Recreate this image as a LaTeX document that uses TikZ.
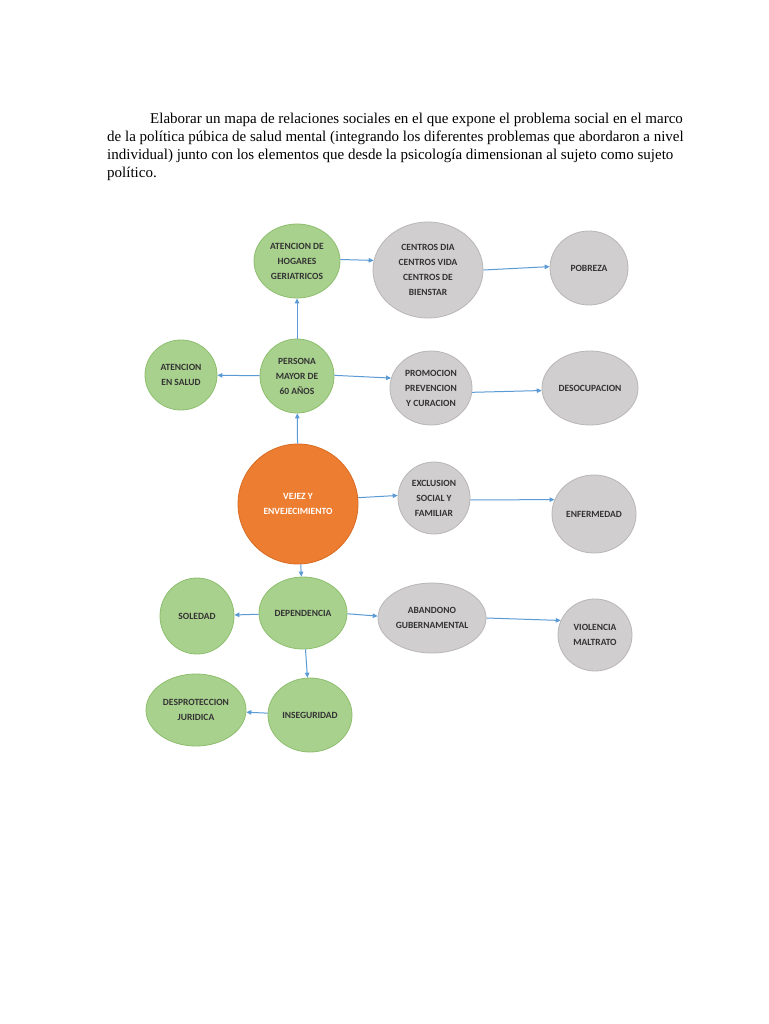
\documentclass[tikz,border=0pt]{standalone}
\usepackage{fontspec}
\setmainfont{Liberation Serif}
\newfontfamily\nodefont{Carlito}
\usetikzlibrary{arrows.meta,shapes.geometric}
\definecolor{gfill}{HTML}{A9D18E}
\definecolor{gline}{HTML}{8DBE6E}
\definecolor{sfill}{HTML}{D0CECE}
\definecolor{sline}{HTML}{B8B6B6}
\definecolor{ofill}{HTML}{ED7D31}
\definecolor{oline}{HTML}{D86A20}
\definecolor{ablue}{HTML}{5B9BD5}
\tikzset{
  bub/.style={ellipse, inner sep=0pt, line width=0.8pt, align=center,
    font=\nodefont\bfseries\fontsize{9.5}{15}\selectfont, text=black!80},
  green/.style={bub, fill=gfill, draw=gline},
  grey/.style={bub, fill=sfill, draw=sline},
  orange/.style={bub, fill=ofill, draw=oline, text=white},
  conn/.style={draw=ablue, line width=1pt, -{Triangle[length=5pt,width=4.5pt]}},
  para/.style={anchor=base west, inner sep=0pt, font=\fontsize{15}{18}\selectfont},
}
\begin{document}
\begin{tikzpicture}[x=1pt,y=-1pt]
\useasboundingbox (0,0) rectangle (768,1024);
\fill[white] (0,0) rectangle (768,1024);
% paragraph
\node[para] (l1) at (150,124) {Elaborar un mapa de relaciones sociales en el que expone el problema social en el marco};
\node[para] (l2) at (107,142) {de la política púbica de salud mental (integrando los diferentes problemas que abordaron a nivel};
\node[para] (l3) at (107,160) {individual) junto con los elementos que desde la psicología dimensionan al sujeto como sujeto};
\node[para] (l4) at (107,178) {político.};
% nodes
\node[green, minimum width=86pt, minimum height=74pt] (hog) at (297,261) {ATENCION DE\\HOGARES\\GERIATRICOS};
\node[grey, minimum width=110pt, minimum height=96pt] (cen) at (428,270) {CENTROS DIA\\CENTROS VIDA\\CENTROS DE\\BIENSTAR};
\node[grey, minimum width=78pt, minimum height=74pt] (pob) at (589,268) {POBREZA};
\node[green, minimum width=72pt, minimum height=70pt] (sal) at (181,375) {ATENCION\\EN SALUD};
\node[green, minimum width=74pt, minimum height=74pt] (per) at (297,376) {PERSONA\\MAYOR DE\\60 AÑOS};
\node[grey, minimum width=82pt, minimum height=74pt] (pro) at (431,388) {PROMOCION\\PREVENCION\\Y CURACION};
\node[grey, minimum width=96pt, minimum height=74pt] (des) at (590,388) {DESOCUPACION};
\node[orange, minimum width=120pt, minimum height=120pt] (vej) at (298,504) {VEJEZ Y\\ENVEJECIMIENTO};
\node[grey, minimum width=72pt, minimum height=72pt] (exc) at (434,498) {EXCLUSION\\SOCIAL Y\\FAMILIAR};
\node[grey, minimum width=84pt, minimum height=78pt] (enf) at (594,514) {ENFERMEDAD};
\node[green, minimum width=74pt, minimum height=76pt] (sol) at (197,616) {SOLEDAD};
\node[green, minimum width=88pt, minimum height=72pt] (dep) at (303,613) {DEPENDENCIA};
\node[grey, minimum width=108pt, minimum height=70pt] (aba) at (432,618) {ABANDONO\\GUBERNAMENTAL};
\node[grey, minimum width=74pt, minimum height=72pt] (vio) at (595,635) {VIOLENCIA\\MALTRATO};
\node[green, minimum width=100pt, minimum height=72pt] (dpr) at (196,710) {DESPROTECCION\\JURIDICA};
\node[green, minimum width=84pt, minimum height=74pt] (ins) at (310,715) {INSEGURIDAD};
% connectors
\draw[conn] (per) -- (hog);
\draw[conn] (hog.2) -- (cen.170);
\draw[conn] (cen.0) -- (pob.178);
\draw[conn] (per) -- (sal);
\draw[conn] (per.1) -- (pro.166);
\draw[conn] (pro.-6) -- (des.183);
\draw[conn] (vej) -- (per);
\draw[conn] (vej.6) -- (exc.176);
\draw[conn] (exc.-3) -- (enf.160);
\draw[conn] (vej) -- (dep);
\draw[conn] (dep) -- (sol);
\draw[conn] (dep.-1) -- (aba.178);
\draw[conn] (aba.0) -- (vio.157);
\draw[conn] (dep) -- (ins);
\draw[conn] (ins) -- (dpr);
\end{tikzpicture}
\end{document}
